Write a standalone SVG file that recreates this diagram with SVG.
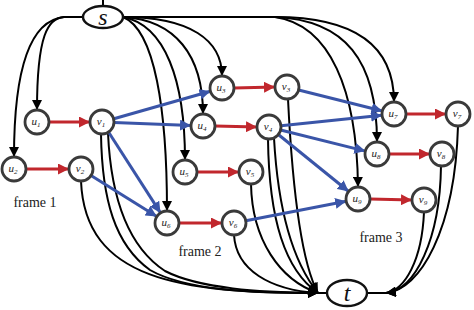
<svg xmlns="http://www.w3.org/2000/svg" width="474" height="310" viewBox="0 0 474 310">
<style>
.n{fill:#fff;stroke:#3a3a3a;stroke-width:2.8}
.e{fill:#fff;stroke:#111;stroke-width:2.4}
.lb{font-family:"Liberation Serif",serif;font-style:italic;font-size:11px;fill:#222;text-anchor:middle}
.sub{font-size:7px}
.big{font-family:"Liberation Serif",serif;font-style:italic;font-size:24px;fill:#111;text-anchor:middle}
.fr{font-family:"Liberation Serif",serif;font-size:14px;fill:#222;text-anchor:middle}
.k{fill:none;stroke:#000;stroke-width:2}
.r{fill:none;stroke:#c1272d;stroke-width:3}
.b{fill:none;stroke:#3a55a8;stroke-width:3}
</style>
<defs>
<marker id="ak" viewBox="0 0 10 10" refX="10" refY="5" markerWidth="10" markerHeight="10" markerUnits="userSpaceOnUse" orient="auto"><path d="M0,0 L10,5 L0,10 z" fill="#000"/></marker>
<marker id="ar" viewBox="0 0 10 10" refX="10" refY="5" markerWidth="11" markerHeight="11" markerUnits="userSpaceOnUse" orient="auto"><path d="M0,0 L10,5 L0,10 z" fill="#c1272d"/></marker>
<marker id="ab" viewBox="0 0 10 10" refX="10" refY="5" markerWidth="11" markerHeight="11" markerUnits="userSpaceOnUse" orient="auto"><path d="M0,0 L10,5 L0,10 z" fill="#3a55a8"/></marker>
</defs>
<g id="edges">
<path class="k" d="M103,0 L103,6"/>
<!-- s to u -->
<path class="k" d="M84,17 L64,17 C48,18 37,35 37,110" marker-end="url(#ak)"/>
<path class="k" d="M64,17 C35,20 14,55 14,157" marker-end="url(#ak)"/>
<path class="k" d="M123,17 C190,17 222,40 222,76" marker-end="url(#ak)"/>
<path class="k" d="M123,17 C175,20 203,55 203,114" marker-end="url(#ak)"/>
<path class="k" d="M123,17 C165,25 185,80 185,160" marker-end="url(#ak)"/>
<path class="k" d="M123,17 C155,30 167,110 167,211" marker-end="url(#ak)"/>
<path class="k" d="M123,17 L275,17 C360,17 394,50 394,102" marker-end="url(#ak)"/>
<path class="k" d="M275,17 C345,20 377,60 377,142" marker-end="url(#ak)"/>
<path class="k" d="M275,17 C330,25 357,90 358,187" marker-end="url(#ak)"/>
<!-- v to t -->
<path class="k" d="M101,134 C102,200 115,245 150,270 C185,290 250,293 318,293" marker-end="url(#ak)"/>
<path class="k" d="M108,133 C111,200 130,248 165,271 C200,289 260,292 318,293" marker-end="url(#ak)"/>
<path class="k" d="M81,181 C85,280 180,293 318,293" marker-end="url(#ak)"/>
<path class="k" d="M288,99 C292,180 300,260 318,293" marker-end="url(#ak)"/>
<path class="k" d="M268,139 C269,220 285,270 318,293" marker-end="url(#ak)"/>
<path class="k" d="M274,138 C278,210 293,262 318,293" marker-end="url(#ak)"/>
<path class="k" d="M251,184 C252,240 280,280 318,293" marker-end="url(#ak)"/>
<path class="k" d="M234,235 C236,270 270,290 318,293" marker-end="url(#ak)"/>
<path class="k" d="M318,293 L327,293"/>
<path class="k" d="M458,126 C455,230 420,290 386,293" marker-end="url(#ak)"/>
<path class="k" d="M441,166 C440,240 415,290 386,293" marker-end="url(#ak)"/>
<path class="k" d="M424,212 C422,260 405,290 386,293" marker-end="url(#ak)"/>
<path class="k" d="M368,293 L386,293"/>
<!-- red -->
<path class="r" d="M49,122 L90,122" marker-end="url(#ar)"/>
<path class="r" d="M26,169 L69,169" marker-end="url(#ar)"/>
<path class="r" d="M234,88 L275,87" marker-end="url(#ar)"/>
<path class="r" d="M215,126 L257,127" marker-end="url(#ar)"/>
<path class="r" d="M197,172 L239,172" marker-end="url(#ar)"/>
<path class="r" d="M179,223 L222,223" marker-end="url(#ar)"/>
<path class="r" d="M406,114 L446,114" marker-end="url(#ar)"/>
<path class="r" d="M389,154 L430,154" marker-end="url(#ar)"/>
<path class="r" d="M370,199 L412,200" marker-end="url(#ar)"/>
<!-- blue -->
<path class="b" d="M113,119 L210.5,91.3" marker-end="url(#ab)"/>
<path class="b" d="M114,122.5 L191,125.5" marker-end="url(#ab)"/>
<path class="b" d="M108.5,132 L160.5,212.9" marker-end="url(#ab)"/>
<path class="b" d="M91,175.4 L156.8,216.6" marker-end="url(#ab)"/>
<path class="b" d="M298.6,90 L382.4,111" marker-end="url(#ab)"/>
<path class="b" d="M281,125.8 L382,115.2" marker-end="url(#ab)"/>
<path class="b" d="M280.6,130 L365.4,151.1" marker-end="url(#ab)"/>
<path class="b" d="M278.3,134.5 L348.7,191.5" marker-end="url(#ab)"/>
<path class="b" d="M245.8,220.7 L346.2,201.3" marker-end="url(#ab)"/>
</g>
<g id="s"><ellipse class="e" cx="103" cy="17" rx="20" ry="11"/><text class="big" x="103" y="25">s</text></g>
<g id="t"><ellipse class="e" cx="347" cy="293" rx="20" ry="13"/><text class="big" x="347" y="301">t</text></g>
<g id="u1"><circle class="n" cx="37" cy="122" r="12"/><text class="lb" x="36" y="125">u<tspan class="sub" dy="2">1</tspan></text></g>
<g id="v1"><circle class="n" cx="102" cy="122" r="12"/><text class="lb" x="101" y="125">v<tspan class="sub" dy="2">1</tspan></text></g>
<g id="u2"><circle class="n" cx="14" cy="169" r="12"/><text class="lb" x="13" y="172">u<tspan class="sub" dy="2">2</tspan></text></g>
<g id="v2"><circle class="n" cx="81" cy="169" r="12"/><text class="lb" x="80" y="172">v<tspan class="sub" dy="2">2</tspan></text></g>
<g id="u3"><circle class="n" cx="222" cy="88" r="12"/><text class="lb" x="221" y="91">u<tspan class="sub" dy="2">3</tspan></text></g>
<g id="v3"><circle class="n" cx="287" cy="87" r="12"/><text class="lb" x="286" y="90">v<tspan class="sub" dy="2">3</tspan></text></g>
<g id="u4"><circle class="n" cx="203" cy="126" r="12"/><text class="lb" x="202" y="129">u<tspan class="sub" dy="2">4</tspan></text></g>
<g id="v4"><circle class="n" cx="269" cy="127" r="12"/><text class="lb" x="268" y="130">v<tspan class="sub" dy="2">4</tspan></text></g>
<g id="u5"><circle class="n" cx="185" cy="172" r="12"/><text class="lb" x="184" y="175">u<tspan class="sub" dy="2">5</tspan></text></g>
<g id="v5"><circle class="n" cx="251" cy="172" r="12"/><text class="lb" x="250" y="175">v<tspan class="sub" dy="2">5</tspan></text></g>
<g id="u6"><circle class="n" cx="167" cy="223" r="12"/><text class="lb" x="166" y="226">u<tspan class="sub" dy="2">6</tspan></text></g>
<g id="v6"><circle class="n" cx="234" cy="223" r="12"/><text class="lb" x="233" y="226">v<tspan class="sub" dy="2">6</tspan></text></g>
<g id="u7"><circle class="n" cx="394" cy="114" r="12"/><text class="lb" x="393" y="117">u<tspan class="sub" dy="2">7</tspan></text></g>
<g id="v7"><circle class="n" cx="458" cy="114" r="12"/><text class="lb" x="457" y="117">v<tspan class="sub" dy="2">7</tspan></text></g>
<g id="u8"><circle class="n" cx="377" cy="154" r="12"/><text class="lb" x="376" y="157">u<tspan class="sub" dy="2">8</tspan></text></g>
<g id="v8"><circle class="n" cx="442" cy="154" r="12"/><text class="lb" x="441" y="157">v<tspan class="sub" dy="2">8</tspan></text></g>
<g id="u9"><circle class="n" cx="358" cy="199" r="12"/><text class="lb" x="357" y="202">u<tspan class="sub" dy="2">9</tspan></text></g>
<g id="v9"><circle class="n" cx="424" cy="200" r="12"/><text class="lb" x="423" y="203">v<tspan class="sub" dy="2">9</tspan></text></g>
<g id="labels">
<text class="fr" x="35" y="207">frame 1</text>
<text class="fr" x="200" y="256">frame 2</text>
<text class="fr" x="381" y="242">frame 3</text>
</g>
</svg>
